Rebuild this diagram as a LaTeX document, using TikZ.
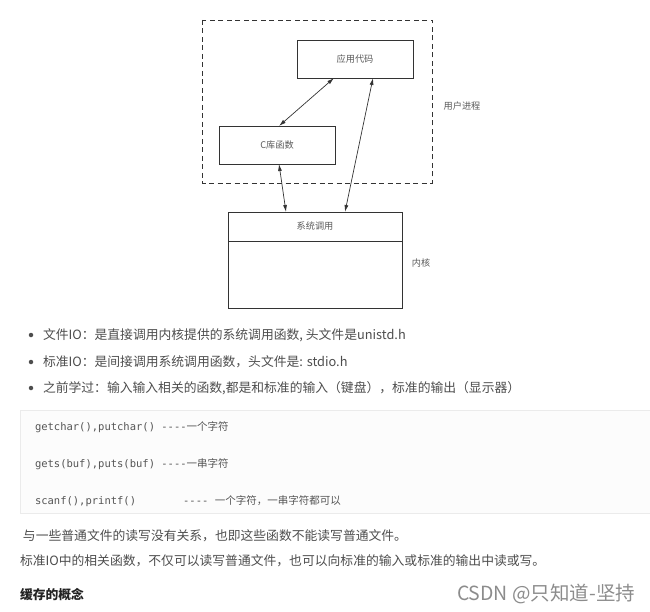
\documentclass[tikz,border=0pt]{standalone}
\usepackage{fontspec}
\setmainfont{Noto Sans CJK SC}
\setmonofont{DejaVu Sans Mono}
\usetikzlibrary{positioning,calc,arrows.meta}
\definecolor{linegray}{HTML}{333333}
\definecolor{diagtext}{HTML}{5A5A5A}
\definecolor{bodytext}{HTML}{4D4D4D}
\definecolor{codetext}{HTML}{555555}
\definecolor{codebg}{HTML}{FCFCFC}
\definecolor{codeline}{HTML}{EBEBEB}
\definecolor{titletext}{HTML}{222222}
\definecolor{markgray}{HTML}{8C8C8C}

\begin{document}
\begin{tikzpicture}[x=1pt, y=-1pt,
  every node/.style={inner sep=0pt, outer sep=0pt},
  box/.style={draw=linegray, line width=0.8pt, minimum width=116pt, minimum height=38pt,
    font=\fontsize{9.2}{11}\selectfont, text=diagtext},
  tag/.style={font=\fontsize{9.2}{11}\selectfont, text=diagtext},
  link/.style={draw=linegray, line width=0.7pt,
    {Latex[length=7pt,width=4pt]}-{Latex[length=7pt,width=4pt]}},
  body/.style={anchor=west, font=\fontsize{12.8}{15}\selectfont, text=bodytext},
  code/.style={anchor=west, font=\fontsize{10.5}{12}\selectfont\ttfamily, text=codetext},
  dot/.style={circle, fill=bodytext, minimum size=4.5pt}]
  \useasboundingbox (0,0) rectangle (650,612);
  % user process
  \draw[linegray, line width=0.8pt, dash pattern=on 5pt off 3.5pt] (202,20) rectangle (432,183);
  \node[box] (app) at (355,59) {应用代码};
  \node[box] (clib) at (277,145) {C库函数};
  \node[tag] (user) at (462,106) {用户进程};
  % kernel
  \node[box, minimum width=174pt, minimum height=29pt] (syscall) at (315,226.5) {系统调用};
  \node[box, minimum width=174pt, minimum height=67pt, below=0pt of syscall] (kernel) {};
  \node[tag] (kern) at (421,263) {内核};
  \draw[link] ([xshift=2pt]clib.north) -- ([xshift=-21pt]app.south);
  \draw[link] ([xshift=2pt]clib.south) -- ([xshift=-29pt]syscall.north);
  \draw[link] ([xshift=30pt]syscall.north) -- ([xshift=18pt]app.south);
  % bullet list
  \node[dot] (d1) at (31,335) {};
  \node[body] (t1) at (43,335) {文件IO：是直接调用内核提供的系统调用函数, 头文件是unistd.h};
  \node[dot] (d2) at (31,362) {};
  \node[body] (t2) at (43,362) {标准IO：是间接调用系统调用函数，头文件是: stdio.h};
  \node[dot] (d3) at (31,388) {};
  \node[body] (t3) at (43,388) {之前学过：输入输入相关的函数,都是和标准的输入（键盘），标准的输出（显示器）};
  % code block
  \fill[codebg] (20,410) rectangle (650,513);
  \draw[codeline] (650,410) -- (20,410) -- (20,513) -- (650,513);
  \node[code] (c1) at (35,427) {getchar(),putchar() ----{\rmfamily 一个字符}};
  \node[code] (c2) at (35,464) {gets(buf),puts(buf) ----{\rmfamily 一串字符}};
  \node[code] (c3) at (35,501) {scanf(),printf()\hspace{47pt}---- {\rmfamily 一个字符，一串字符都可以}};
  % text below
  \node[body] (p1) at (23,536) {与一些普通文件的读写没有关系，也即这些函数不能读写普通文件。};
  \node[body] (p2) at (20,561) {标准IO中的相关函数，不仅可以读写普通文件，也可以向标准的输入或标准的输出中读或写。};
  \node[body, font=\fontsize{12.8}{15}\selectfont\bfseries, text=titletext] (p3) at (20,595) {缓存的概念};
  \node[anchor=west, font=\fontsize{19.5}{21}\selectfont, text=markgray] (mark) at (457,594) {CSDN @只知道-坚持};
\end{tikzpicture}
\end{document}
